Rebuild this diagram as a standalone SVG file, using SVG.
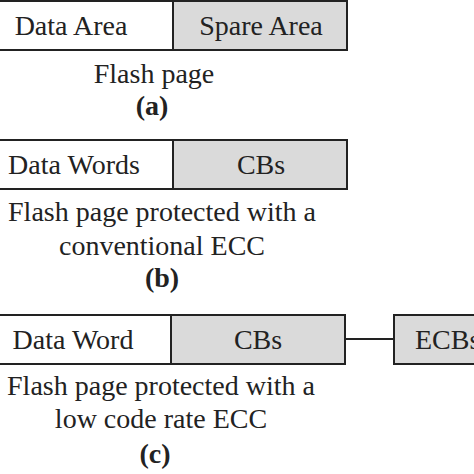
<svg xmlns="http://www.w3.org/2000/svg" width="474" height="474" viewBox="0 0 474 474">
<style>
.w{fill:#ffffff;stroke:#222;stroke-width:2}
.g{fill:#dadada;stroke:#222;stroke-width:2}
text{font-family:"Liberation Serif","Times New Roman",serif;font-size:28px;fill:#222;text-anchor:middle}
.b{font-weight:bold}
.c{stroke:#222;stroke-width:2;fill:none}
</style>
<rect x="0" y="0" width="474" height="474" fill="#fff"/>
<g id="a">
<g id="a-data"><rect class="w" x="-10" y="1" width="183" height="49"/><text x="71" y="35">Data Area</text></g>
<g id="a-spare"><rect class="g" x="173" y="1" width="174" height="49"/><text x="261" y="35">Spare Area</text></g>
<text x="154" y="83">Flash page</text>
<text class="b" x="152" y="115">(a)</text>
</g>
<g id="b">
<g id="b-data"><rect class="w" x="-10" y="140" width="183" height="49"/><text x="74" y="174">Data Words</text></g>
<g id="b-cbs"><rect class="g" x="173" y="140" width="174" height="49"/><text x="261" y="174">CBs</text></g>
<text x="162" y="221">Flash page protected with a</text>
<text x="162" y="255">conventional ECC</text>
<text class="b" x="162" y="287">(b)</text>
</g>
<g id="c">
<g id="c-data"><rect class="w" x="-10" y="315" width="181" height="49"/><text x="73" y="349">Data Word</text></g>
<g id="c-cbs"><rect class="g" x="171" y="315" width="174" height="49"/><text x="258" y="349">CBs</text></g>
<g id="c-ecbs"><rect class="g" x="394" y="315" width="120" height="49"/><text x="415" y="349" style="text-anchor:start">ECBs</text></g>
<text x="161" y="395">Flash page protected with a</text>
<text x="161" y="428">low code rate ECC</text>
<text class="b" x="155" y="463">(c)</text>
</g>
<g id="connectors">
<line class="c" x1="345" y1="339" x2="394" y2="339"/>
</g>
</svg>
